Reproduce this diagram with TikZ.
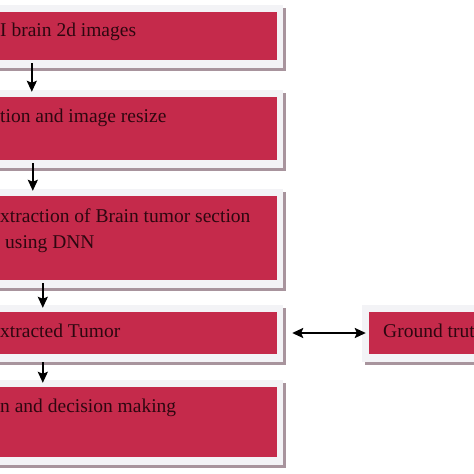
\documentclass[tikz,border=0pt]{standalone}
\usepackage{fontspec}
\setmainfont{Liberation Serif}
\usepackage{xcolor}
\usetikzlibrary{arrows.meta,fit}

\definecolor{boxred}{HTML}{C52A4B}
\definecolor{boxtext}{HTML}{2E0710}
\definecolor{framec}{HTML}{F3F3F6}
\definecolor{shadec}{HTML}{A8949D}

\tikzset{
  redbox/.style={fill=boxred,inner sep=0pt},
  lbl/.style={text=boxtext,inner sep=0pt,font=\fontsize{19.5}{23}\selectfont},
  arr/.style={-{Stealth[length=11pt,width=10pt,inset=2pt]},line width=2pt},
  darr/.style={{Stealth[length=11pt,width=10pt,inset=2pt]}-{Stealth[length=11pt,width=10pt,inset=2pt]},line width=2pt},
}

% shadow, frame and red box: name, x1, y1, x2, y2
\newcommand\panel[5]{%
  \fill[shadec] (#2-4,#3-4) rectangle (#4+9,#5+11);
  \fill[framec] (#2-7,#3-7) rectangle (#4+6,#5+8);
  \node[redbox,fit={(#2,#3) (#4,#5)}] (#1) {};
}

\begin{document}
\begin{tikzpicture}[x=1pt,y=-1pt]
\useasboundingbox (0,0) rectangle (474,474);
\clip (0,0) rectangle (474,474);

\panel{b1}{-10}{12}{277}{60}
\panel{b2}{-10}{97}{277}{160}
\panel{b3}{-10}{196}{277}{280}
\panel{b4}{-10}{312}{277}{354}
\panel{b5}{-10}{387}{277}{457}
\panel{gt}{369}{312}{500}{354}

\node[lbl,anchor=base west] (t1) at (0,36) {I brain 2d images};
\node[lbl,anchor=base west] (t2) at (0,122) {tion and image resize};
\node[lbl,anchor=base west] (t3) at (0,222) {xtraction of Brain tumor section};
\node[lbl,anchor=base west] (t3b) at (5,248) {using DNN};
\node[lbl,anchor=base west] (t4) at (0,337) {xtracted Tumor};
\node[lbl,anchor=base west] (t5) at (0,412) {n and decision making};
\node[lbl,anchor=base west] (t6) at (383,337) {Ground trut};

\draw[arr] ([xshift=42pt,yshift=-3pt]b1.south west) -- ([xshift=42pt,yshift=5pt]b2.north west);
\draw[arr] ([xshift=43pt,yshift=-3pt]b2.south west) -- ([xshift=43pt,yshift=5pt]b3.north west);
\draw[arr] ([xshift=53pt,yshift=-3pt]b3.south west) -- ([xshift=53pt,yshift=4pt]b4.north west);
\draw[arr] ([xshift=53pt,yshift=-8pt]b4.south west) -- ([xshift=53pt,yshift=4pt]b5.north west);
\draw[darr] ([xshift=15pt]b4.east) -- ([xshift=-3pt]gt.west);
\end{tikzpicture}
\end{document}
